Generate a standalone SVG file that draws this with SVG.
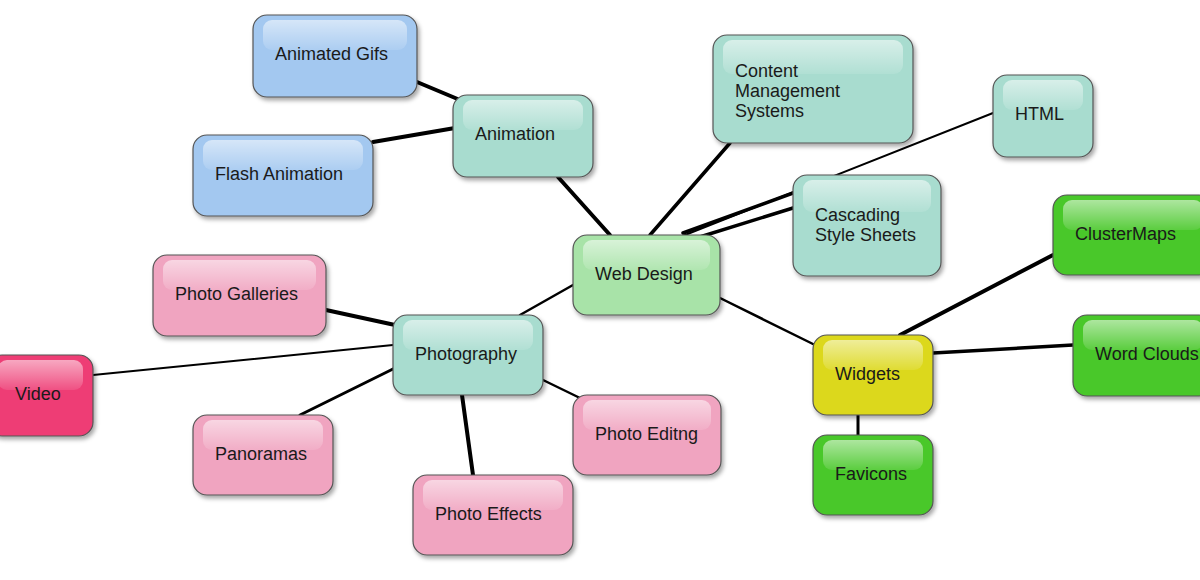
<svg xmlns="http://www.w3.org/2000/svg" width="1200" height="580" viewBox="0 0 1200 580">
<defs>
<linearGradient id="gl" x1="0" y1="0" x2="0" y2="1"><stop offset="0" stop-color="#fff" stop-opacity="0.55"/><stop offset="1" stop-color="#fff" stop-opacity="0.1"/></linearGradient>
<filter id="sh" x="-10%" y="-10%" width="130%" height="140%"><feDropShadow dx="2" dy="3" stdDeviation="2" flood-color="#000" flood-opacity="0.35"/></filter>
</defs>
<style>
.n rect.b{stroke:#555;stroke-width:1.2;filter:url(#sh)}
.n rect.g{fill:url(#gl)}
.n text{font-family:"Liberation Sans",Arial,sans-serif;font-size:18px;fill:#1a1a1a}
.blue{fill:#a3c8f0}.teal{fill:#a8dccf}.green{fill:#a8e3a8}.pink{fill:#f0a4c0}.mag{fill:#ee3d75}.yel{fill:#dcd81c}.bg{fill:#48c82a}
#c line{stroke:#000;stroke-linecap:round}
</style>
<rect width="1200" height="580" fill="#fff"/>
<g id="c">
<line x1="417" y1="82" x2="460" y2="100" stroke-width="4"/>
<line x1="373" y1="142" x2="455" y2="128" stroke-width="4"/>
<line x1="558" y1="177" x2="610" y2="235" stroke-width="4"/>
<line x1="730" y1="143" x2="650" y2="235" stroke-width="3.5"/>
<line x1="993" y1="113" x2="680" y2="237" stroke-width="2"/>
<line x1="793" y1="193" x2="683" y2="233" stroke-width="3.5"/>
<line x1="793" y1="208" x2="690" y2="240" stroke-width="3.5"/>
<line x1="573" y1="285" x2="520" y2="315" stroke-width="2.5"/>
<line x1="720" y1="298" x2="815" y2="345" stroke-width="2.5"/>
<line x1="900" y1="335" x2="1053" y2="255" stroke-width="4"/>
<line x1="933" y1="353" x2="1073" y2="345" stroke-width="3.5"/>
<line x1="858" y1="415" x2="858" y2="435" stroke-width="3"/>
<line x1="326" y1="310" x2="395" y2="325" stroke-width="4"/>
<line x1="93" y1="375" x2="393" y2="345" stroke-width="2"/>
<line x1="300" y1="415" x2="395" y2="368" stroke-width="3"/>
<line x1="543" y1="380" x2="580" y2="398" stroke-width="2.5"/>
<line x1="462" y1="395" x2="473" y2="475" stroke-width="4"/>
</g>
<g id="animated-gifs" class="n"><rect class="b blue" x="253" y="15" width="164" height="82" rx="14"/><rect class="g" x="263" y="20" width="144" height="30" rx="9"/><text x="275" y="60">Animated Gifs</text></g>
<g id="animation" class="n"><rect class="b teal" x="453" y="95" width="140" height="82" rx="14"/><rect class="g" x="463" y="100" width="120" height="30" rx="9"/><text x="475" y="140">Animation</text></g>
<g id="flash" class="n"><rect class="b blue" x="193" y="135" width="180" height="81" rx="14"/><rect class="g" x="203" y="140" width="160" height="30" rx="9"/><text x="215" y="180">Flash Animation</text></g>
<g id="cms" class="n"><rect class="b teal" x="713" y="35" width="200" height="108" rx="14"/><rect class="g" x="723" y="40" width="180" height="34" rx="9"/><text x="735" y="77">Content</text><text x="735" y="97">Management</text><text x="735" y="117">Systems</text></g>
<g id="html" class="n"><rect class="b teal" x="993" y="75" width="100" height="82" rx="14"/><rect class="g" x="1003" y="80" width="80" height="30" rx="9"/><text x="1015" y="120">HTML</text></g>
<g id="css" class="n"><rect class="b teal" x="793" y="175" width="148" height="101" rx="14"/><rect class="g" x="803" y="180" width="128" height="32" rx="9"/><text x="815" y="221">Cascading</text><text x="815" y="241">Style Sheets</text></g>
<g id="web-design" class="n"><rect class="b green" x="573" y="235" width="147" height="80" rx="14"/><rect class="g" x="583" y="240" width="127" height="30" rx="9"/><text x="595" y="280">Web Design</text></g>
<g id="clustermaps" class="n"><rect class="b bg" x="1053" y="195" width="160" height="80" rx="14"/><rect class="g" x="1063" y="200" width="140" height="30" rx="9"/><text x="1075" y="240">ClusterMaps</text></g>
<g id="photo-galleries" class="n"><rect class="b pink" x="153" y="255" width="173" height="81" rx="14"/><rect class="g" x="163" y="260" width="153" height="30" rx="9"/><text x="175" y="300">Photo Galleries</text></g>
<g id="photography" class="n"><rect class="b teal" x="393" y="315" width="150" height="80" rx="14"/><rect class="g" x="403" y="320" width="130" height="30" rx="9"/><text x="415" y="360">Photography</text></g>
<g id="word-clouds" class="n"><rect class="b bg" x="1073" y="315" width="140" height="81" rx="14"/><rect class="g" x="1083" y="320" width="120" height="30" rx="9"/><text x="1095" y="360">Word Clouds</text></g>
<g id="video" class="n"><rect class="b mag" x="-12" y="355" width="105" height="81" rx="14"/><rect class="g" x="-2" y="360" width="85" height="30" rx="9"/><text x="15" y="400">Video</text></g>
<g id="widgets" class="n"><rect class="b yel" x="813" y="335" width="120" height="80" rx="14"/><rect class="g" x="823" y="340" width="100" height="30" rx="9"/><text x="835" y="380">Widgets</text></g>
<g id="panoramas" class="n"><rect class="b pink" x="193" y="415" width="140" height="80" rx="14"/><rect class="g" x="203" y="420" width="120" height="30" rx="9"/><text x="215" y="460">Panoramas</text></g>
<g id="photo-editing" class="n"><rect class="b pink" x="573" y="395" width="148" height="80" rx="14"/><rect class="g" x="583" y="400" width="128" height="30" rx="9"/><text x="595" y="440">Photo Editng</text></g>
<g id="favicons" class="n"><rect class="b bg" x="813" y="435" width="120" height="80" rx="14"/><rect class="g" x="823" y="440" width="100" height="30" rx="9"/><text x="835" y="480">Favicons</text></g>
<g id="photo-effects" class="n"><rect class="b pink" x="413" y="475" width="160" height="80" rx="14"/><rect class="g" x="423" y="480" width="140" height="30" rx="9"/><text x="435" y="520">Photo Effects</text></g>
</svg>
